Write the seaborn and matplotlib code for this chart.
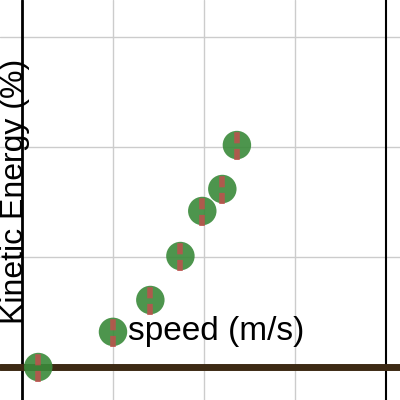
import matplotlib
matplotlib.use("Agg")
import matplotlib.pyplot as plt
import seaborn as sns
import pandas as pd

speed = [0.18, 1.0, 1.41, 1.74, 1.98, 2.2, 2.36]
energy = [0.0, 0.32, 0.61, 1.01, 1.42, 1.62, 2.02]
df = pd.DataFrame({"speed": speed, "energy": energy})

sns.set_style("white")
plt.rcParams["font.family"] = ["Liberation Sans", "DejaVu Sans"]
fig = plt.figure(figsize=(4, 4), dpi=100)
ax = fig.add_axes([0, 0, 1, 1])
ax.set_xlim(-0.24, 4.15)
ax.set_ylim(-0.3, 3.34)
for gx in [1, 2, 3]:
    ax.axvline(gx, color="#cccccc", lw=1, zorder=0)
for gy in [1, 2, 3]:
    ax.axhline(gy, color="#cccccc", lw=1, zorder=0)
ax.axvline(0, color="black", lw=2, zorder=1)
ax.axvline(4.0, color="black", lw=1.5, zorder=1)
ax.axhline(0, color="#3d2a14", lw=5, zorder=1)

sns.scatterplot(data=df, x="speed", y="energy", ax=ax, s=420,
                color="#3a8a3a", alpha=0.9, edgecolor="none", zorder=3)
eb = ax.errorbar(speed, energy, yerr=0.14, fmt="none", ecolor="#c0504d",
                 elinewidth=4, zorder=4, alpha=0.85)
eb[2][0].set_linestyle((0, (2, 1)))

ax.set_xticks([]); ax.set_yticks([])
for s in ax.spines.values():
    s.set_visible(False)
ax.set_xlabel(""); ax.set_ylabel("")
ax.text(1.17, 0.32, "speed (m/s)", fontsize=24, ha="left", va="center",
        color="black", zorder=5)
ax.text(-0.235, 1.6, "Kinetic Energy (%)", fontsize=23, rotation=90,
        ha="left", va="center", color="black", zorder=5)
fig.savefig("out.png", dpi=100)
